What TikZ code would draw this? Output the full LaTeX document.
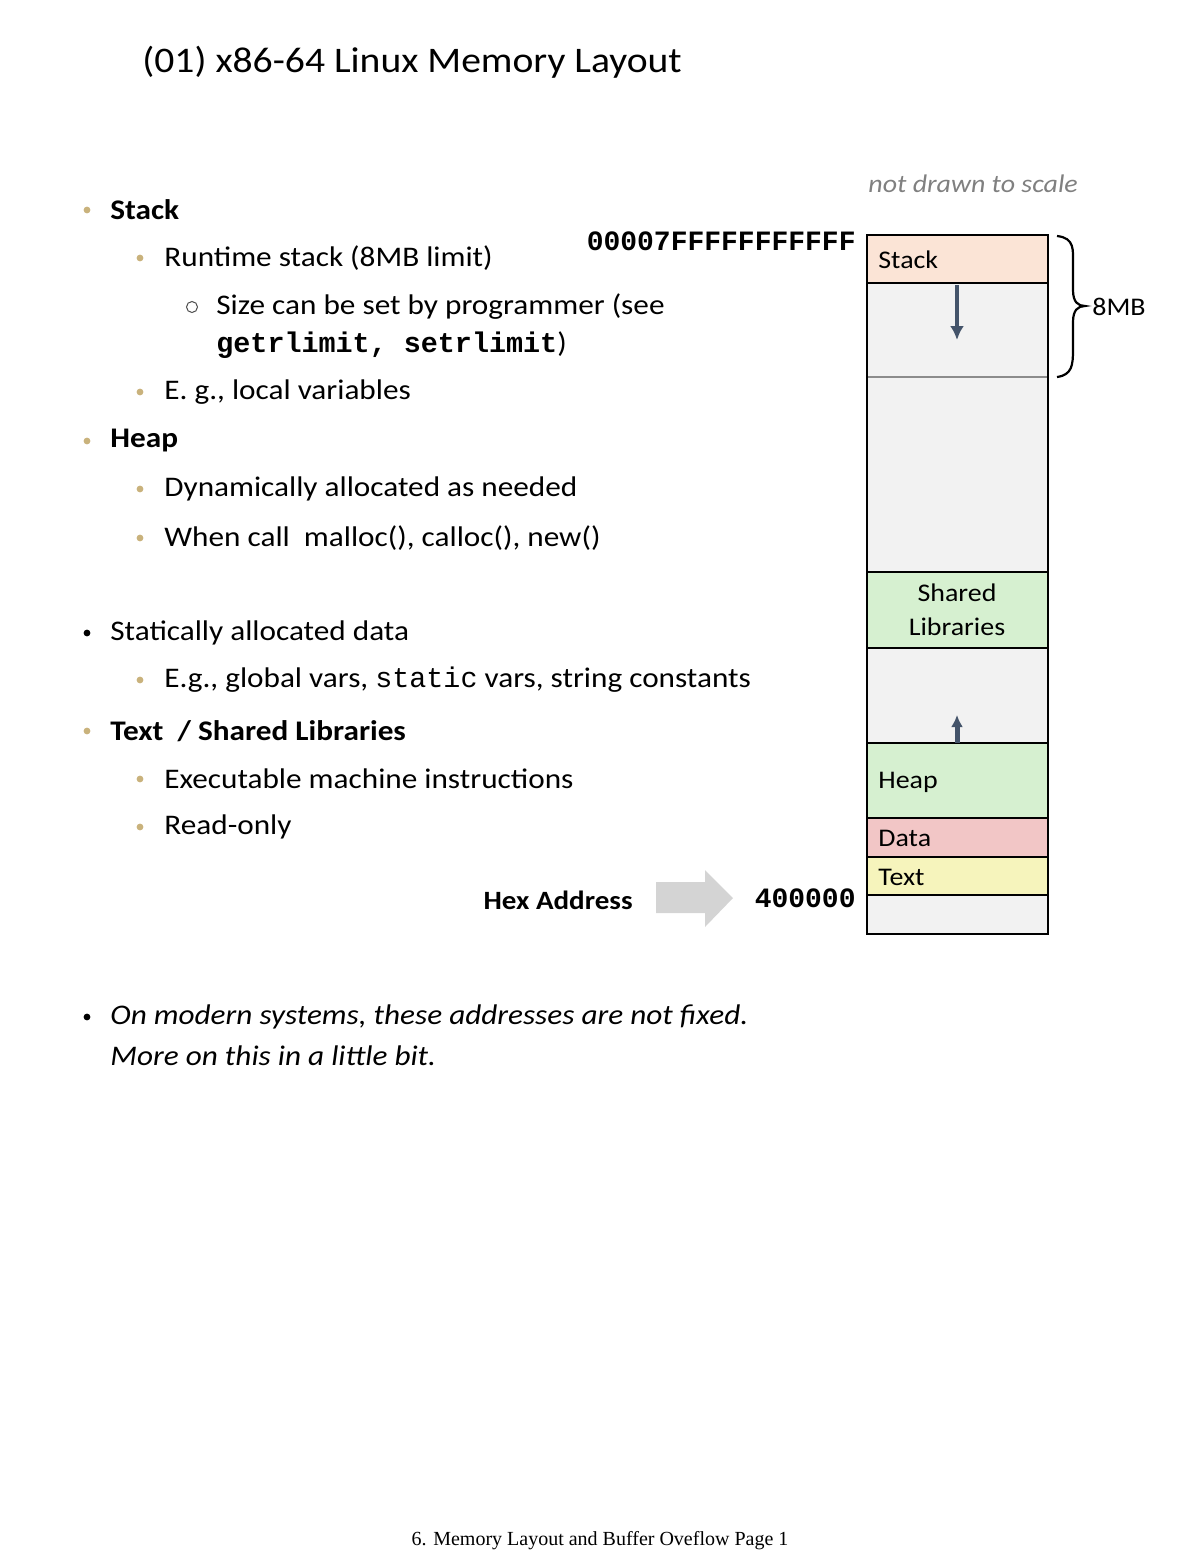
\documentclass[tikz,border=0pt]{standalone}
\usepackage{fontspec}
\setmainfont{Carlito}[FakeStretch=1.1]
\newfontfamily\monof{Liberation Mono}
\newfontfamily\serf{Liberation Serif}
\usetikzlibrary{arrows.meta}
\begin{document}
\begin{tikzpicture}[x=0.5pt,y=-0.5pt,
  seg/.style={draw=black,line width=1.4pt},
  lbl/.style={anchor=west,font=\fontsize{12.7}{14}\selectfont,inner sep=0pt},
  b1/.style={anchor=west,font=\fontsize{14.2}{16}\selectfont,inner sep=0pt}]
\definecolor{tan}{HTML}{C9B27C}
\definecolor{stackc}{HTML}{FBE4D6}
\definecolor{freec}{HTML}{F2F2F2}
\definecolor{greenc}{HTML}{D6F0D0}
\definecolor{datac}{HTML}{F2C6C6}
\definecolor{textc}{HTML}{F6F4BC}
\definecolor{arrc}{HTML}{44546A}
\useasboundingbox (0,0) rectangle (1200,1553);
\node[anchor=west,inner sep=0pt,font=\fontsize{18}{21}\selectfont] (title) at (142,62) {(01) x86-64 Linux Memory Layout};
% bullets
\foreach \y/\c in {210/tan,441/tan,731/tan,633/black,1017/black}{\fill[\c] (87,\y) circle (3.4);}
\foreach \y in {258,392,489,538,680,779,827}{\fill[tan] (140,\y) circle (3.4);}
\draw[black!70,line width=0.5pt] (192,307) circle (5.5);
\node[b1] (t1) at (110,210) {\textbf{Stack}};
\node[b1] (t2) at (164,258) {Runtime stack (8MB limit)};
\node[b1] (t3) at (216,307) {Size can be set by programmer (see};
\node[b1] (t4) at (216,345) {{\monof\bfseries getrlimit, setrlimit})};
\node[b1] (t5) at (164,392) {E. g., local variables};
\node[b1] (t6) at (110,441) {\textbf{Heap}};
\node[b1] (t7) at (164,489) {Dynamically allocated as needed};
\node[b1] (t8) at (164,538) {When call \ malloc(), calloc(), new()};
\node[b1] (t9) at (110,633) {Statically allocated data};
\node[b1] (t10) at (164,680) {E.g., global vars, {\monof static} vars, string constants};
\node[b1] (t11) at (110,731) {\textbf{Text \ / Shared Libraries}};
\node[b1] (t12) at (164,779) {Executable machine instructions};
\node[b1] (t13) at (164,827) {Read-only};
\node[b1] (t14) at (110,1017) {\itshape On modern systems, these addresses are not fixed.};
\node[b1] (t15) at (110,1056) {\itshape More on this in a little bit.};
% memory column
\fill[freec] (867,235) rectangle (1048,934);
\fill[stackc] (867,235) rectangle (1048,283);
\fill[greenc] (867,572) rectangle (1048,648);
\fill[greenc] (867,743) rectangle (1048,818);
\fill[datac] (867,818) rectangle (1048,857);
\fill[textc] (867,857) rectangle (1048,895);
\draw[black!45,line width=1.4pt] (867,377) -- (1048,377);
\foreach \y in {283,572,648,743,818,857,895}{\draw[seg] (867,\y) -- (1048,\y);}
\draw[seg] (867,235) rectangle (1048,934);
\node[lbl] (stk) at (878,260) {Stack};
\node[align=center,font=\fontsize{12.7}{17}\selectfont] (shl) at (957,610) {Shared\\Libraries};
\node[lbl] (hp) at (878,782) {Heap};
\node[lbl] (dt) at (878,838) {Data};
\node[lbl] (tx) at (878,877) {Text};
\coordinate (a1s) at (957,285); \coordinate (a1e) at (957,340);
\draw[arrc,line width=2pt,-{Latex[length=7pt,width=7pt]}] (a1s) -- (a1e);
\coordinate (a2s) at (957,743); \coordinate (a2e) at (957,715);
\draw[arrc,line width=2.5pt,-{Latex[length=6pt,width=6pt]}] (a2s) -- (a2e);
% brace
\draw[line width=1.1pt] (1057,236) .. controls (1075,238) and (1073,250) .. (1073,265) -- (1073,290) .. controls (1073,302) and (1078,306) .. (1085,306) .. controls (1078,306) and (1073,310) .. (1073,322) -- (1073,350) .. controls (1073,365) and (1072,375) .. (1057,377);
\node[anchor=west,font=\fontsize{12.7}{14}\selectfont,inner sep=0pt] (mb) at (1092,307) {8MB};
\node[anchor=west,inner sep=0pt,text=black!50,font=\fontsize{12.7}{14}\selectfont\itshape] (nd) at (868,184) {not drawn to scale};
\node[anchor=east,inner sep=0pt,font=\fontsize{14}{14}\selectfont\monof\bfseries] (top) at (856,241) {00007FFFFFFFFFFF};
\node[anchor=east,inner sep=0pt,font=\fontsize{14}{14}\selectfont\monof\bfseries] (low) at (856,898) {400000};
\node[anchor=east,inner sep=0pt,font=\fontsize{13.2}{14}\selectfont\bfseries] (hex) at (633,900) {Hex Address};
\fill[black!17] (656,882) -- (705,882) -- (705,870) -- (733,898) -- (705,927) -- (705,913) -- (656,913) -- cycle;
\node[font=\fontsize{10}{12}\selectfont\serf] (foot) at (600,1541) {6. Memory Layout and Buffer Oveflow Page 1};
\end{tikzpicture}
\end{document}
